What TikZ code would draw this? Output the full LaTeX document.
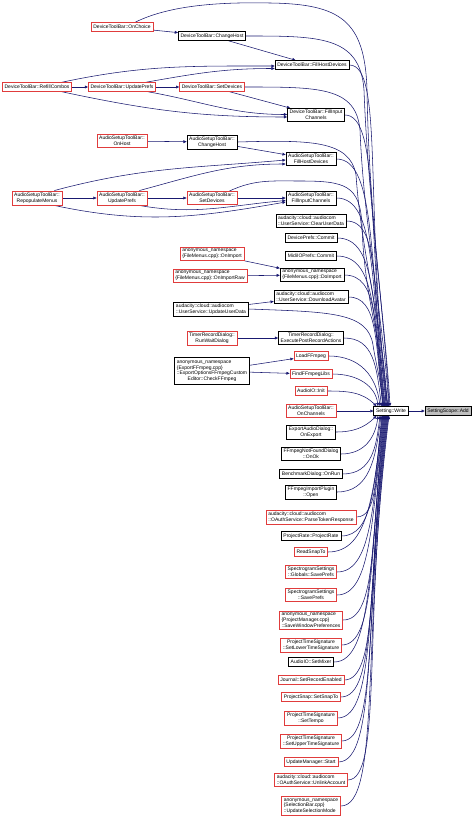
\documentclass[tikz,border=0pt]{standalone}
\usepackage{fontspec}
\setmainfont{Liberation Sans}
\usetikzlibrary{arrows.meta}
\pgfdeclarelayer{edgelayer}
\pgfsetlayers{edgelayer,main}
\definecolor{edgec}{HTML}{191970}
\definecolor{redc}{HTML}{E03C3C}
\definecolor{addfill}{HTML}{BFBFBF}
\tikzset{
  nb/.style={draw=black, fill=white, line width=0.55pt, inner xsep=2.3pt, inner ysep=2pt,
    minimum height=9pt, font=\fontsize{5}{5.7}\selectfont, align=center},
  nr/.style={nb, draw=redc},
  nbl/.style={nb, align=left},
  nrl/.style={nr, align=left},
  edge/.style={draw=edgec, line width=0.55pt, -{Triangle[length=3.2pt,width=2.8pt]}},
}
\newcommand\wtop[4]{\draw[edge] (#1.east) to[out=0,in=97,out distance=#2pt,in distance=#3pt] ([xshift=#4pt]w.north);}
\newcommand\wbot[4]{\draw[edge] (#1.east) to[out=0,in=-97,out distance=#2pt,in distance=#3pt] ([xshift=#4pt]w.south);}
\begin{document}
\begin{tikzpicture}[x=1pt,y=-1pt]
\useasboundingbox (0,0) rectangle (474,816);
% nodes
\node[nr] (oc) at (122,27) {DeviceToolBar::OnChoice};
\node[nb] (ch) at (212,36) {DeviceToolBar::ChangeHost};
\node[nb] (fhd) at (312,65) {DeviceToolBar::FillHostDevices};
\node[nr] (rc) at (37,87) {DeviceToolBar::RefillCombos};
\node[nr] (up) at (122,87) {DeviceToolBar::UpdatePrefs};
\node[nr] (sd) at (212,87) {DeviceToolBar::SetDevices};
\node[nb] (fic) at (316,115) {DeviceToolBar::FillInput\\Channels};
\node[nr] (aoh) at (122,141) {AudioSetupToolBar::\\OnHost};
\node[nb] (ach) at (212,142) {AudioSetupToolBar::\\ChangeHost};
\node[nb] (afhd) at (311,159) {AudioSetupToolBar::\\FillHostDevices};
\node[nr] (arm) at (37,198) {AudioSetupToolBar::\\RepopulateMenus};
\node[nr] (aup) at (122,198) {AudioSetupToolBar::\\UpdatePrefs};
\node[nr] (asd) at (212,198) {AudioSetupToolBar::\\SetDevices};
\node[nb] (afic) at (311,198) {AudioSetupToolBar::\\FillInputChannels};
\node[nbl] (cud) at (311,221) {audacity::cloud::audiocom\\::UserService::ClearUserData};
\node[nb] (dpc) at (311,238) {DevicePrefs::Commit};
\node[nb] (mpc) at (311,256) {MidiIOPrefs::Commit};
\node[nrl] (oi) at (212,254) {anonymous\_namespace\\\{FileMenus.cpp\}::OnImport};
\node[nrl] (oir) at (210,276) {anonymous\_namespace\\\{FileMenus.cpp\}::OnImportRaw};
\node[nbl] (di) at (312,275) {anonymous\_namespace\\\{FileMenus.cpp\}::DoImport};
\node[nbl] (da) at (311,297) {audacity::cloud::audiocom\\::UserService::DownloadAvatar};
\node[nbl] (uud) at (211,309) {audacity::cloud::audiocom\\::UserService::UpdateUserData};
\node[nr] (rwd) at (212,338) {TimerRecordDialog::\\RunWaitDialog};
\node[nb] (epra) at (311,338) {TimerRecordDialog::\\ExecutePostRecordActions};
\node[nr] (lff) at (311,356) {LoadFFmpeg};
\node[nb] (cff) at (212,371) {\begin{tabular}{@{}l@{}}anonymous\_namespace\\\{ExportFFmpeg.cpp\}\\::ExportOptionsFFmpegCustom\\\multicolumn{1}{@{}c@{}}{Editor::CheckFFmpeg}\end{tabular}};
\node[nr] (ffl) at (311,374) {FindFFmpegLibs};
\node[nr] (aii) at (311,391) {AudioIO::Init};
\node[nr] (aoc) at (311,411) {AudioSetupToolBar::\\OnChannels};
\node[nb] (w) at (391,411) {Setting::Write};
\node[nb, fill=addfill] (add) at (448,411) {SettingScope::Add};
\node[nb] (eoe) at (311,432) {ExportAudioDialog::\\OnExport};
\node[nb] (fnf) at (311,454) {FFmpegNotFoundDialog\\::OnOk};
\node[nb] (bor) at (311,474) {BenchmarkDialog::OnRun};
\node[nb] (fio) at (311,492) {FFmpegImportPlugin\\::Open};
\node[nrl] (ptr) at (311,517) {audacity::cloud::audiocom\\::OAuthService::ParseTokenResponse};
\node[nb] (prr) at (311,536) {ProjectRate::ProjectRate};
\node[nr] (rst) at (311,552) {ReadSnapTo};
\node[nr] (sgs) at (311,572) {SpectrogramSettings\\::Globals::SavePrefs};
\node[nr] (ssp) at (311,595) {SpectrogramSettings\\::SavePrefs};
\node[nrl] (swp) at (311,620) {anonymous\_namespace\\\{ProjectManager.cpp\}\\::SaveWindowPreferences};
\node[nr] (slt) at (311,645) {ProjectTimeSignature\\::SetLowerTimeSignature};
\node[nb] (sm) at (311,662) {AudioIO::SetMixer};
\node[nr] (jre) at (311,680) {Journal::SetRecordEnabled};
\node[nr] (sst) at (311,697) {ProjectSnap::SetSnapTo};
\node[nr] (stm) at (311,718) {ProjectTimeSignature\\::SetTempo};
\node[nr] (sut) at (311,741) {ProjectTimeSignature\\::SetUpperTimeSignature};
\node[nr] (ums) at (311,762) {UpdateManager::Start};
\node[nrl] (ua) at (311,780) {audacity::cloud::audiocom\\::OAuthService::UnlinkAccount};
\node[nrl] (usm) at (311,806) {anonymous\_namespace\\\{SelectionBar.cpp\}\\::UpdateSelectionMode};
\begin{pgfonlayer}{edgelayer}
% internal edges
\draw[edge] (oc) -- (ch);
\draw[edge] (ch) -- (fhd);
\draw[edge] (rc) -- (up);
\draw[edge] (up) -- (sd);
\draw[edge] (sd) -- (fic);
\draw[edge] ([xshift=-10pt]rc.north east) to[out=12,in=180] ([yshift=-1pt]fhd.west);
\draw[edge] ([xshift=-10pt]up.north east) to[out=10,in=180] ([yshift=-3.5pt]fhd.west);
\draw[edge] ([xshift=-10pt]rc.south east) to[out=-12,in=180] ([yshift=-2pt]fic.west);
\draw[edge] ([xshift=-8pt]up.south east) to[out=-10,in=180] ([yshift=0.5pt]fic.west);
\draw[edge] (aoh) -- (ach);
\draw[edge] (ach) -- (afhd);
\draw[edge] (arm) -- (aup);
\draw[edge] (aup) -- (asd);
\draw[edge] (asd) -- (afic);
\draw[edge] ([xshift=-8pt]arm.north east) to[out=15,in=185] ([yshift=-1pt]afhd.west);
\draw[edge] ([xshift=-8pt]aup.north east) to[out=15,in=180] ([yshift=-5pt]afhd.west);
\draw[edge] ([xshift=-8pt]arm.south east) to[out=-12,in=190] ([yshift=-4pt]afic.west);
\draw[edge] ([xshift=-8pt]aup.south east) to[out=-10,in=185] ([yshift=-2.5pt]afic.west);
\draw[edge] (oi) -- (di);
\draw[edge] (oir) -- (di);
\draw[edge] (uud) -- (da);
\draw[edge] (rwd) -- (epra);
\draw[edge] (cff) -- (lff);
\draw[edge] (cff) -- (ffl);
\draw[edge] (w) -- (add);
% edges into Setting::Write from above
\draw[edge] ([xshift=-18pt]oc.north east) .. controls (170,5) and (220,2) .. (270,3)
  .. controls (340,4) and (365,20) .. (367,90) .. controls (369,220) and (386,330) .. ([xshift=-1pt]w.north);
\draw[edge] (ch.east) .. controls (320,36) and (360,36) .. (364,90)
  .. controls (368,200) and (386,330) .. ([xshift=-2pt]w.north);
\wtop{fhd}{35}{200}{-3}
\draw[edge] (sd.east) .. controls (320,87) and (356,87) .. (360,130)
  .. controls (364,230) and (385,330) .. ([xshift=-2.5pt]w.north);
\wtop{fic}{35}{170}{-3.5}
\draw[edge] (ach.east) .. controls (310,140) and (350,140) .. (356,175)
  .. controls (362,260) and (384,330) .. ([xshift=-4pt]w.north);
\wtop{afhd}{40}{145}{-4.5}
\draw[edge] ([xshift=-8pt]asd.north east) to[out=25,in=180] (300,181)
  .. controls (345,181) and (360,185) .. (362,225) .. controls (364,300) and (384,350) .. ([xshift=-5pt]w.north);
\wtop{afic}{40}{125}{-5.5}
\wtop{cud}{35}{110}{-6}
\wtop{dpc}{40}{100}{-6.5}
\wtop{mpc}{40}{90}{-7}
\wtop{di}{35}{80}{-7.5}
\wtop{da}{30}{65}{-8}
\draw[edge] (uud.east) .. controls (330,312) and (368,312) .. (373,345)
  .. controls (376,365) and (382,385) .. ([xshift=-8.5pt]w.north);
\wtop{epra}{30}{40}{-9.5}
\wtop{lff}{32}{30}{-11}
\wtop{ffl}{26}{20}{-13}
\draw[edge] (aii.east) to[out=0,in=135] ([xshift=3pt]w.north west);
\draw[edge] (aoc) -- (w);
% edges into Setting::Write from below
\draw[edge] (eoe.east) to[out=0,in=-135] ([xshift=3pt]w.south west);
\wbot{fnf}{25}{20}{-13}
\wbot{bor}{30}{30}{-11}
\wbot{fio}{32}{45}{-10}
\wbot{ptr}{22}{60}{-9}
\wbot{prr}{32}{70}{-8.5}
\wbot{rst}{40}{80}{-8}
\wbot{sgs}{35}{90}{-7.5}
\wbot{ssp}{35}{100}{-7}
\wbot{swp}{35}{115}{-6.5}
\wbot{slt}{35}{130}{-6}
\wbot{sm}{40}{140}{-5.5}
\wbot{jre}{35}{150}{-5}
\wbot{sst}{37}{165}{-4.5}
\wbot{stm}{40}{175}{-4}
\wbot{sut}{37}{190}{-3.5}
\wbot{ums}{40}{200}{-3}
\wbot{ua}{35}{210}{-2.5}
\wbot{usm}{40}{225}{-2}
\end{pgfonlayer}
\end{tikzpicture}
\end{document}
